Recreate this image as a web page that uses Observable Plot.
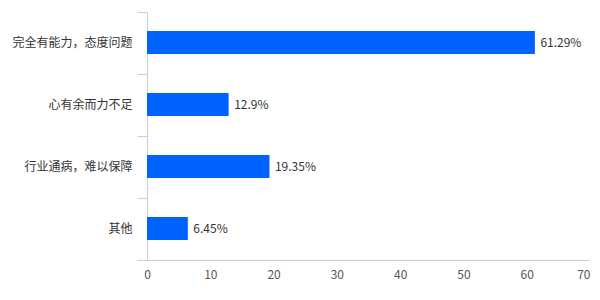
<!DOCTYPE html>
<html>
<head>
<meta charset="utf-8">
<script src="https://cdn.jsdelivr.net/npm/d3@7"></script>
<script src="https://cdn.jsdelivr.net/npm/@observablehq/plot@0.6"></script>
<style>
  html, body { margin: 0; padding: 0; background: #fff; }
  #chart { width: 600px; height: 300px; }
</style>
</head>
<body>
<div id="chart"></div>
<script>
const categories = ["完全有能力，态度问题", "心有余而力不足", "行业通病，难以保障", "其他"];
const values = [61.29, 12.9, 19.35, 6.45];
const valueLabels = ["61.29%", "12.9%", "19.35%", "6.45%"];
const xTicks = [0, 10, 20, 30, 40, 50, 60];
const xLastTick = [70];

const data = categories.map((c, i) => ({category: c, value: values[i], label: valueLabels[i]}));

const axisColor = "#c4d0e0";
const font = "'Noto Sans CJK SC', 'Noto Sans', sans-serif";

// boundary ticks on the category axis and the horizontal base line
const frame = (index, scales, vals, dims) => {
  const y = scales.y, x = scales.x;
  const bw = typeof y.bandwidth === "function" ? y.bandwidth() : y.bandwidth;
  const step = y(categories[1]) - y(categories[0]);
  const g = d3.create("svg:g").attr("stroke", axisColor).attr("stroke-width", 1);
  const x0 = Math.round(x(0)) + 0.5;
  const bounds = categories.map(c => y(c) + bw / 2 - step / 2);
  bounds.push(y(categories[categories.length - 1]) + bw / 2 + step / 2);
  for (const b of bounds) {
    const yy = Math.round(b) + 0.5;
    g.append("line").attr("x1", x0 - 10).attr("x2", x0).attr("y1", yy).attr("y2", yy);
  }
  const yb = Math.round(bounds[bounds.length - 1]) + 0.5;
  g.append("line").attr("x1", x0 - 10).attr("x2", x(70)).attr("y1", yb).attr("y2", yb);
  g.append("line").attr("x1", x0).attr("x2", x0).attr("y1", Math.round(bounds[0]) + 0.5).attr("y2", yb);
  return g.node();
};

const chart = Plot.plot({
  width: 600,
  height: 300,
  marginLeft: 147,
  marginRight: 10,
  marginTop: 10,
  marginBottom: 39,
  style: {fontFamily: font, fontSize: "12px", background: "#fff"},
  x: {domain: [0, 70], axis: null},
  y: {domain: categories, paddingInner: 0.63, paddingOuter: 0.315, axis: null},
  marks: [
    frame,
    Plot.barX(data, {x: "value", y: "category", fill: "#0062ff"}),
    Plot.text(data, {x: "value", y: "category", text: "label", textAnchor: "start", dx: 5, fill: "#333", fontSize: 12}),
    Plot.axisY({tickSize: 0, tickPadding: 15, fill: "#333", fontSize: 12, label: null}),
    Plot.axisX(xTicks, {tickSize: 0, tickPadding: 9, fill: "#555", fontSize: 12, label: null}),
    Plot.axisX(xLastTick, {tickSize: 0, tickPadding: 9, fill: "#555", fontSize: 12, label: null, textAnchor: "end"})
  ]
});
document.getElementById("chart").appendChild(chart);
</script>
</body>
</html>
